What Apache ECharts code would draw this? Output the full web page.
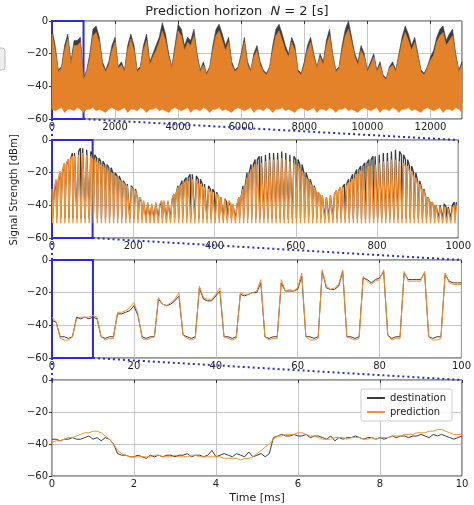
<!DOCTYPE html>
<html><head><meta charset="utf-8">
<script src="https://cdn.jsdelivr.net/npm/echarts@6/dist/echarts.min.js"></script>
<style>html,body{margin:0;padding:0;background:#fff}#c{width:474px;height:505px}</style>
</head><body><div id="c"></div>
<script>
// panel 1: envelope of the signal, one value every 100 ms
var p1Step = 100;
var destUp1 = [-5,-15,-30,-28,-15,-8,-25,-12,-12,-10,-35,
  -30,-20,-5,-3,-10,-25,-30,-25,-15,-10,
  -28,-25,-30,-15,-8,-15,-30,-28,-15,-8,
  -25,-20,-15,-10,-1,-8,-20,-28,-15,-2,
  -5,-15,-10,-12,-5,-20,-30,-25,-32,-28,
  -15,-5,-2,-8,-15,-10,-25,-30,-28,-20,
  -10,-25,-30,-20,-15,-25,-30,-32,-28,-15,
  -5,-2,-8,-15,-20,-10,-15,-30,-32,-25,
  -15,-10,-20,-28,-20,-25,-12,-5,-20,-30,
  -28,-15,-5,0,-10,-20,-25,-15,-20,-30,
  -25,-20,-30,-25,-33,-35,-28,-25,-30,-20,
  -10,-3,-8,-15,-10,-20,-30,-32,-28,-22,
  -18,-10,-5,-3,-12,-8,-5,-20,-30,-25];
var predUp1 = [-8,-18,-31,-29,-18,-11,-27,-15,-15,-13,-36,
  -31,-23,-9,-7,-13,-27,-31,-27,-18,-13,
  -29,-27,-31,-18,-11,-18,-31,-29,-18,-12,
  -27,-22,-18,-13,-6,-12,-22,-29,-18,-6,
  -9,-18,-13,-15,-9,-22,-31,-27,-33,-29,
  -18,-9,-6,-12,-18,-13,-27,-31,-29,-22,
  -13,-27,-31,-22,-18,-27,-31,-33,-29,-18,
  -9,-6,-12,-18,-22,-13,-18,-31,-33,-27,
  -18,-13,-22,-29,-22,-27,-15,-9,-22,-31,
  -29,-18,-9,-5,-13,-22,-27,-18,-22,-31,
  -27,-22,-31,-27,-34,-36,-29,-27,-31,-22,
  -13,-7,-12,-18,-13,-22,-31,-33,-29,-24,
  -21,-13,-9,-7,-15,-12,-9,-22,-31,-27];
var destLow1 = [-50,-50,-51,-50,-50,-49,-50,-51,-50,-50,-50,-51,-50,-50,-50,-49,-50,-51,-50,-50];
var predLow1 = [-54,-55,-54,-53,-56,-54,-54,-55,-53,-54,-56,-54,-54,-53,-55,-54,-55,-56,-54,-53];
// panel 2: pulse tops, one pulse every 10 ms
var p2Step = 10;
var destUp2 = [-32,-25,-20,-15,-12,-8,-7,-5,-6,-7,-9,-11,-13,-15,-17,-20,-22,-25,-27,-28,-30,-35,-38,-39,-40,-39,-40,-38,-38,-37,-33,-28,-25,-23,-21,-22,-24,-27,-28,-30,-32,-35,-36,-38,-40,-40,-35,-28,-20,-15,-12,-10,-9,-8,-8,-8,-7,-8,-9,-10,-12,-15,-20,-24,-28,-32,-34,-35,-34,-33,-31,-29,-27,-24,-21,-18,-16,-14,-12,-10,-9,-8,-8,-7,-6,-7,-9,-12,-16,-20,-25,-30,-35,-38,-40,-40,-39,-41,-40,-38];
var predUp2 = [-30,-24,-19,-14,-12,-10,-9,-8,-9,-10,-12,-14,-16,-18,-20,-22,-24,-26,-28,-29,-31,-35,-37,-38,-39,-38,-39,-37,-37,-36,-33,-29,-27,-25,-24,-25,-27,-29,-30,-32,-33,-35,-36,-37,-39,-39,-35,-30,-23,-18,-15,-14,-13,-12,-12,-12,-11,-12,-13,-14,-16,-19,-23,-26,-29,-32,-34,-35,-34,-33,-31,-29,-28,-26,-24,-21,-19,-18,-16,-15,-14,-13,-13,-12,-12,-13,-14,-16,-19,-23,-27,-31,-35,-38,-40,-41,-41,-42,-42,-40];
var destLow2 = -48, predLow2 = -51;
// panel 3: 0..100 ms, step 1
var dest3 = [-37,-38,-47,-47,-48,-47,-35,-36,-35,-36,-35,-36,-47,-48,-47,-47,-33,-33,-32,-31,-28,-34,-47,-48,-47,-47,-24,-27,-28,-27,-25,-22,-46,-47,-48,-47,-17,-24,-25,-25,-22,-19,-47,-47,-48,-47,-21,-22,-21,-20,-20,-14,-47,-48,-47,-47,-14,-19,-19,-19,-18,-10,-47,-47,-48,-47,-7,-17,-18,-18,-16,-7,-47,-47,-48,-47,-11,-12,-14,-12,-11,-7,-46,-48,-47,-47,-8,-12,-12,-12,-12,-8,-47,-48,-47,-47,-9,-13,-14,-14,-14];
var pred3 = [-35,-38,-48,-49,-49,-47,-36,-35,-35,-35,-34,-35,-47,-49,-48,-48,-32,-32,-31,-29,-26,-33,-48,-49,-48,-47,-23,-27,-28,-26,-24,-20,-46,-48,-49,-48,-16,-23,-24,-24,-21,-17,-47,-48,-49,-48,-20,-21,-21,-20,-19,-12,-47,-49,-48,-48,-12,-19,-18,-19,-17,-8,-47,-49,-49,-48,-6,-16,-18,-17,-15,-6,-47,-48,-49,-48,-10,-13,-15,-13,-12,-6,-46,-49,-48,-48,-7,-13,-13,-13,-13,-7,-47,-49,-49,-48,-8,-14,-15,-15,-15];
// panel 4: 0..10 ms, step 0.1
var dest4 = [-37,-37,-38,-37,-37,-36,-37,-37,-36,-35,-37,-36,-38,-36,-37,-40,-46,-47,-47,-48,-48,-47,-48,-49,-47,-48,-47,-48,-47,-47,-48,-47,-47,-46,-48,-47,-47,-48,-47,-44,-48,-47,-46,-47,-48,-46,-47,-48,-45,-48,-47,-46,-48,-46,-36,-35,-34,-35,-35,-34,-35,-35,-34,-36,-35,-35,-36,-37,-35,-38,-36,-37,-36,-36,-35,-36,-37,-36,-36,-37,-36,-37,-36,-35,-36,-35,-35,-36,-35,-35,-34,-35,-36,-34,-35,-34,-35,-36,-37,-36,-35];
var pred4 = [-39,-38,-38,-37,-36,-36,-35,-34,-33,-33,-32,-32,-33,-35,-37,-40,-44,-46,-47,-48,-48,-48,-48,-48,-48,-47,-47,-48,-48,-48,-47,-48,-48,-48,-47,-47,-48,-48,-48,-48,-48,-48,-49,-49,-49,-49,-50,-49,-49,-48,-46,-44,-42,-40,-37,-35,-35,-34,-34,-34,-33,-33,-34,-35,-35,-36,-37,-37,-37,-36,-36,-36,-37,-36,-36,-36,-37,-37,-36,-37,-36,-36,-36,-35,-35,-35,-34,-34,-34,-33,-33,-33,-32,-32,-31,-31,-32,-33,-34,-34,-34];

var xMax = [13000, 1000, 100, 10];
var xInt = [2000, 200, 20, 2];
var zoomEnd = [1000, 100, 10];
var tops = [21, 140, 260, 380];
var DARK = '#3b3b3b', ORANGE = '#f39134', FILL = '#e4822a', BLUE = '#2a2ae0';

// band polygon (upper envelope, then lower envelope back) drawn through the axis scale
function bandSeries(name, up, lowArr, step, color) {
  return {
    type: 'custom', name: name, xAxisIndex: 0, yAxisIndex: 0, data: [[0, 0]], silent: true,
    renderItem: function (params, api) {
      var pts = [];
      up.forEach(function (v, i) { pts.push(api.coord([i * step, v])); });
      for (var i = up.length - 1; i >= 0; i--) pts.push(api.coord([i * step, lowArr[i % lowArr.length]]));
      return {type: 'polygon', shape: {points: pts}, style: {fill: color, stroke: color, lineWidth: 0.6}};
    }
  };
}
function pulses(up, low, step) {
  var out = [];
  up.forEach(function (v, i) {
    var x = i * step;
    out.push([x, v], [x + 0.15 * step, v], [x + 0.16 * step, low], [x + 0.53 * step, low], [x + 0.54 * step, v]);
  });
  return out;
}
function xy(arr, step) { return arr.map(function (v, i) { return [+(i * step).toFixed(2), v]; }); }

var grids = [], xAxes = [], yAxes = [];
for (var g = 0; g < 4; g++) {
  grids.push({left: 52, right: 12, top: tops[g], height: 98, show: true, borderColor: '#333', borderWidth: 1});
  xAxes.push({type: 'value', gridIndex: g, min: 0, max: xMax[g], interval: xInt[g],
    name: g === 3 ? 'Time [ms]' : '', nameLocation: 'middle', nameGap: 17,
    nameTextStyle: {fontSize: 11, color: '#222', fontFamily: 'DejaVu Sans'},
    axisLine: {show: false}, axisTick: {show: true, length: 3, lineStyle: {color: '#333'}},
    axisLabel: {fontSize: 10, color: '#222', margin: 3, fontFamily: 'DejaVu Sans', showMaxLabel: g !== 0,
      formatter: function (v) { return String(v); }},
    splitLine: {show: true, lineStyle: {color: '#b8b8b8', width: 0.8}}});
  yAxes.push({type: 'value', gridIndex: g, min: -60, max: 0, interval: 20,
    axisLine: {show: false}, axisTick: {show: true, length: 3, lineStyle: {color: '#333'}},
    axisLabel: {fontSize: 10, color: '#222', margin: 4, fontFamily: 'DejaVu Sans',
      formatter: function (v) { return v < 0 ? '\u2212' + (-v) : v; }},
    splitLine: {show: true, lineStyle: {color: '#b8b8b8', width: 0.8}}});
}

function zoomBox(g) {
  return {silent: true, itemStyle: {color: 'rgba(0,0,0,0)', borderColor: BLUE, borderWidth: 2},
    data: [[{coord: [0, -60]}, {coord: [zoomEnd[g], 0]}]]};
}
var noSym = {showSymbol: false, symbol: 'none', animation: false};
var series = [
  bandSeries('destination', destUp1, destLow1, p1Step, DARK),
  bandSeries('prediction', predUp1, predLow1, p1Step, FILL),
  Object.assign({type: 'line', name: 'destination', xAxisIndex: 0, yAxisIndex: 0, data: [], markArea: zoomBox(0)}, noSym),
  Object.assign({type: 'line', name: 'destination', xAxisIndex: 1, yAxisIndex: 1, data: pulses(destUp2, destLow2, p2Step), lineStyle: {width: 1.3, color: DARK}}, noSym),
  Object.assign({type: 'line', name: 'prediction', xAxisIndex: 1, yAxisIndex: 1, data: pulses(predUp2, predLow2, p2Step), lineStyle: {width: 1.3, color: ORANGE}, markArea: zoomBox(1)}, noSym),
  Object.assign({type: 'line', name: 'destination', xAxisIndex: 2, yAxisIndex: 2, data: xy(dest3, 1), lineStyle: {width: 1, color: DARK}}, noSym),
  Object.assign({type: 'line', name: 'prediction', xAxisIndex: 2, yAxisIndex: 2, data: xy(pred3, 1), lineStyle: {width: 1, color: ORANGE}, markArea: zoomBox(2)}, noSym),
  Object.assign({type: 'line', name: 'destination', xAxisIndex: 3, yAxisIndex: 3, data: xy(dest4, 0.1), lineStyle: {width: 1, color: DARK}}, noSym),
  Object.assign({type: 'line', name: 'prediction', xAxisIndex: 3, yAxisIndex: 3, data: xy(pred4, 0.1), lineStyle: {width: 1, color: ORANGE}}, noSym)
];

var chart = echarts.init(document.getElementById('c'));
chart.setOption({
  animation: false,
  color: [DARK, ORANGE],
  title: {text: '{a|Prediction horizon  }{i|N}{a| = 2 [s]}', left: 'center', top: 0,
    textStyle: {fontWeight: 'normal', rich: {a: {fontSize: 13, color: '#222', fontFamily: 'DejaVu Sans'}, i: {fontSize: 13, color: '#222', fontStyle: 'italic', fontFamily: 'DejaVu Sans'}}}},
  legend: {data: [{name: 'destination', itemStyle: {color: DARK}}, {name: 'prediction', itemStyle: {color: ORANGE}}],
    orient: 'vertical', right: 22, top: 389,
    itemWidth: 18, itemHeight: 2, itemGap: 4, icon: 'rect', padding: [4, 6],
    backgroundColor: 'rgba(255,255,255,0.85)', borderColor: '#ccc', borderWidth: 1, borderRadius: 2,
    textStyle: {fontSize: 10, color: '#222', fontFamily: 'DejaVu Sans'}},
  grid: grids, xAxis: xAxes, yAxis: yAxes, series: series
});

// dotted connectors between a zoom box and the next panel
var els = [
  {type: 'text', rotation: Math.PI / 2, x: 14, y: 190, style: {text: 'Signal Strength [dBm]', fontSize: 10, fill: '#222', fontFamily: 'DejaVu Sans', align: 'center', verticalAlign: 'middle'}},
  {type: 'rect', shape: {x: -4, y: 48, width: 9, height: 22, r: 3}, style: {fill: '#eee', stroke: '#bbb'}}
];
for (var k = 0; k < 3; k++) {
  var a = chart.convertToPixel({gridIndex: k}, [0, -60]);
  var b = chart.convertToPixel({gridIndex: k}, [zoomEnd[k], -60]);
  var c = chart.convertToPixel({gridIndex: k + 1}, [0, 0]);
  var d = chart.convertToPixel({gridIndex: k + 1}, [xMax[k + 1], 0]);
  [[a, c], [b, d]].forEach(function (p) {
    els.push({type: 'line', shape: {x1: p[0][0], y1: p[0][1], x2: p[1][0], y2: p[1][1]},
      style: {stroke: BLUE, lineWidth: 2, lineDash: [2, 3]}, z: 10});
  });
}
chart.setOption({graphic: els});
</script></body></html>
